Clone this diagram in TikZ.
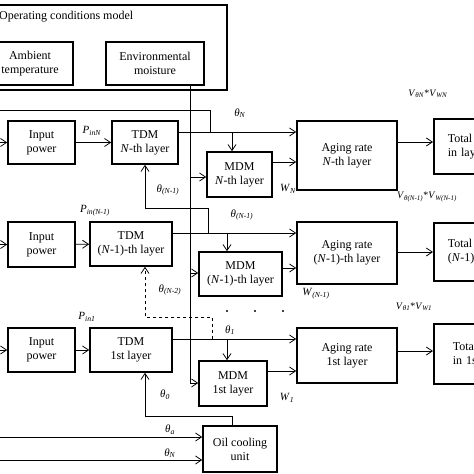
\documentclass[tikz,border=0pt]{standalone}
\usepackage{fontspec}
\setmainfont{Liberation Serif}
\usetikzlibrary{arrows.meta, calc}

\newcommand{\vsub}[2]{\textit{#1}\textsubscript{\textit{#2}}}
\newcommand{\vprod}[1]{\vsub{V}{θ#1}*\vsub{V}{W#1}}

\begin{document}
\begin{tikzpicture}[
    x=1pt, y=-1pt,
    >={Straight Barb[length=6pt,width=8pt]},
    every edge/.style={draw, line width=0.8pt},
    wire/.style={draw, line width=0.8pt},
    cmpt/.style={draw, line width=1.6pt, align=center, inner sep=2pt, font=\fontsize{12}{14}\selectfont},
    total/.style={cmpt, align=left, text width=60pt, inner xsep=14pt, anchor=north west},
    lbl/.style={font=\fontsize{11}{12}\selectfont, inner sep=1pt},
    vlbl/.style={font=\fontsize{10}{11}\selectfont, inner sep=1pt}]

    \useasboundingbox (0,0) rectangle (474,474);

    %%% Operating conditions model
    \node[cmpt, minimum width=237pt, minimum height=85pt] at (108.5,47.5) (ocm) {};
    \node[anchor=west, inner sep=0pt, font=\fontsize{12}{14}\selectfont] at (-1,17) (ocmtext) {Operating conditions model};
    \node[cmpt, minimum width=86pt, minimum height=43pt] at (30,63.5) (amb) {Ambient\\temperature};
    \node[cmpt, minimum width=98pt, minimum height=43pt] at (155,63.5) (moist) {Environmental\\moisture};

    %%% N-th layer
    \node[cmpt, minimum width=67pt, minimum height=43pt] at (41.5,142.5) (inN) {Input\\power};
    \node[cmpt, minimum width=66pt, minimum height=43pt] at (145,142.5) (tdmN) {TDM\\\textit{N}-th layer};
    \node[cmpt, minimum width=65pt, minimum height=45pt] at (239.5,174.5) (mdmN) {MDM\\\textit{N}-th layer};
    \node[cmpt, minimum width=100pt, minimum height=69pt] at (347,155.5) (ageN) {Aging rate\\\textit{N}-th layer};
    \node[total, minimum height=55pt] at (433,118) (totN) {Total\\in layer};

    %%% (N-1)-th layer
    \node[cmpt, minimum width=67pt, minimum height=45pt] at (41.5,244.5) (inN1) {Input\\power};
    \node[cmpt, minimum width=82pt, minimum height=44pt] at (131,244) (tdmN1) {TDM\\(\textit{N}-1)-th layer};
    \node[cmpt, minimum width=83pt, minimum height=44pt] at (240.5,274) (mdmN1) {MDM\\(\textit{N}-1)-th layer};
    \node[cmpt, minimum width=100pt, minimum height=62pt] at (347,253) (ageN1) {Aging rate\\(\textit{N}-1)-th layer};
    \node[total, minimum height=58pt] at (433,222) (totN1) {Total\\(\textit{N}-1)};

    %%% 1st layer
    \node[cmpt, minimum width=67pt, minimum height=44pt] at (41.5,350) (in1) {Input\\power};
    \node[cmpt, minimum width=82pt, minimum height=44pt] at (131,350) (tdm1) {TDM\\1st layer};
    \node[cmpt, minimum width=68pt, minimum height=45pt] at (233,383.5) (mdm1) {MDM\\1st layer};
    \node[cmpt, minimum width=100pt, minimum height=55pt] at (347,355.5) (age1) {Aging rate\\1st layer};
    \node[total, minimum height=60pt, inner xsep=19pt] at (433,323) (tot1) {Tota\\in 1st};

    \node[cmpt, minimum width=74pt, minimum height=46pt] at (240,449) (oil) {Oil cooling\\unit};

    %%% Free ends and junctions
    \coordinate (srcN) at (-10,142.5);
    \coordinate (srcN1) at (-10,244.5);
    \coordinate (src1) at (-10,350);
    \coordinate (ambsrc) at (-10,110);
    \coordinate (asrc) at (-10,437);
    \coordinate (nsrc) at (-10,460);
    \coordinate (jN) at (232,132);
    \coordinate (jN1) at (227,233);
    \coordinate (j1) at (227,339);
    \coordinate (fbN) at (208,233);
    \coordinate (fb1) at (212,339);

    %%% Relations between components
    \path (srcN) edge [->] (inN);
    \path (srcN1) edge [->] (inN1);
    \path (src1) edge [->] (in1);
    \path (inN) edge [->] (tdmN);
    \path (inN1) edge [->] (tdmN1);
    \path (in1) edge [->] (tdm1);

    \draw[wire] (ambsrc) -| (210,132);
    \draw[wire, ->] (tdmN.east |- jN) -- (ageN.west |- jN);
    \draw[wire, ->] (tdmN1.east |- jN1) -- (ageN1.west |- jN1);
    \draw[wire, ->] (tdm1.east |- j1) -- (age1.west |- j1);
    \draw[wire, ->] (jN) -- (jN |- mdmN.north);
    \draw[wire, ->] (jN1) -- (jN1 |- mdmN1.north);
    \draw[wire, ->] (j1) -- (j1 |- mdm1.north);

    \draw[wire, ->] (mdmN.east |- 0,162) -- (ageN.west |- 0,162);
    \draw[wire, ->] (mdmN1.east |- 0,268) -- (ageN1.west |- 0,268);
    \draw[wire, ->] (mdm1.east |- 0,371) -- (age1.west |- 0,371);
    \draw[wire, ->] (ageN.east |- 0,142) -- (totN.west |- 0,142);
    \draw[wire, ->] (ageN1.east |- 0,252) -- (totN1.west |- 0,252);
    \draw[wire, ->] (age1.east |- 0,351) -- (tot1.west |- 0,351);

    \draw[wire, ->] (moist.south -| 190,0) |- (mdm1.west |- 0,383);
    \draw[wire, ->] (190,177) -- (mdmN.west |- 0,177);
    \draw[wire, ->] (190,273) -- (mdmN1.west |- 0,273);

    \draw[wire, ->] (fbN) |- (145,208) -- (tdmN.south -| 145,0);
    \draw[wire, dashed, ->] (fb1) |- (145,317) -- (tdmN1.south -| 145,0);
    \draw[wire, ->] (oil.north -| 232,0) |- (145,416) -- (tdm1.south -| 145,0);
    \draw[wire, ->] (asrc) -- (oil.west |- asrc);
    \draw[wire, ->] (nsrc) -- (oil.west |- nsrc);

    \foreach \x in {227,255,283} \fill (\x,311) circle (1.1pt);

    %%% Labels
    \node[lbl] at (92,131) (pinN) {\vsub{P}{inN}};
    \node[lbl] at (95,211) (pinN1) {\vsub{P}{in(N-1)}};
    \node[lbl] at (87,317) (pin1) {\vsub{P}{in1}};
    \node[lbl] at (240,113) (thN) {\vsub{θ}{N}};
    \node[lbl] at (168,190) (thNa) {\vsub{θ}{(N-1)}};
    \node[lbl] at (242,215) (thNb) {\vsub{θ}{(N-1)}};
    \node[lbl] at (170,290) (thN2) {\vsub{θ}{(N-2)}};
    \node[lbl] at (230,330) (th1) {\vsub{θ}{1}};
    \node[lbl] at (165,395) (th0) {\vsub{θ}{0}};
    \node[lbl] at (170,430) (tha) {\vsub{θ}{a}};
    \node[lbl] at (170,453) (thNo) {\vsub{θ}{N}};
    \node[lbl] at (288,189) (wN) {\vsub{W}{N}};
    \node[lbl] at (316,294) (wN1) {\vsub{W}{(N-1)}};
    \node[lbl] at (287,398) (w1) {\vsub{W}{1}};
    \node[vlbl] at (428,94) (vN) {\vprod{N}};
    \node[vlbl] at (427,197) (vN1) {\vprod{(N-1)}};
    \node[vlbl] at (414,307) (v1) {\vprod{1}};

\end{tikzpicture}
\end{document}
